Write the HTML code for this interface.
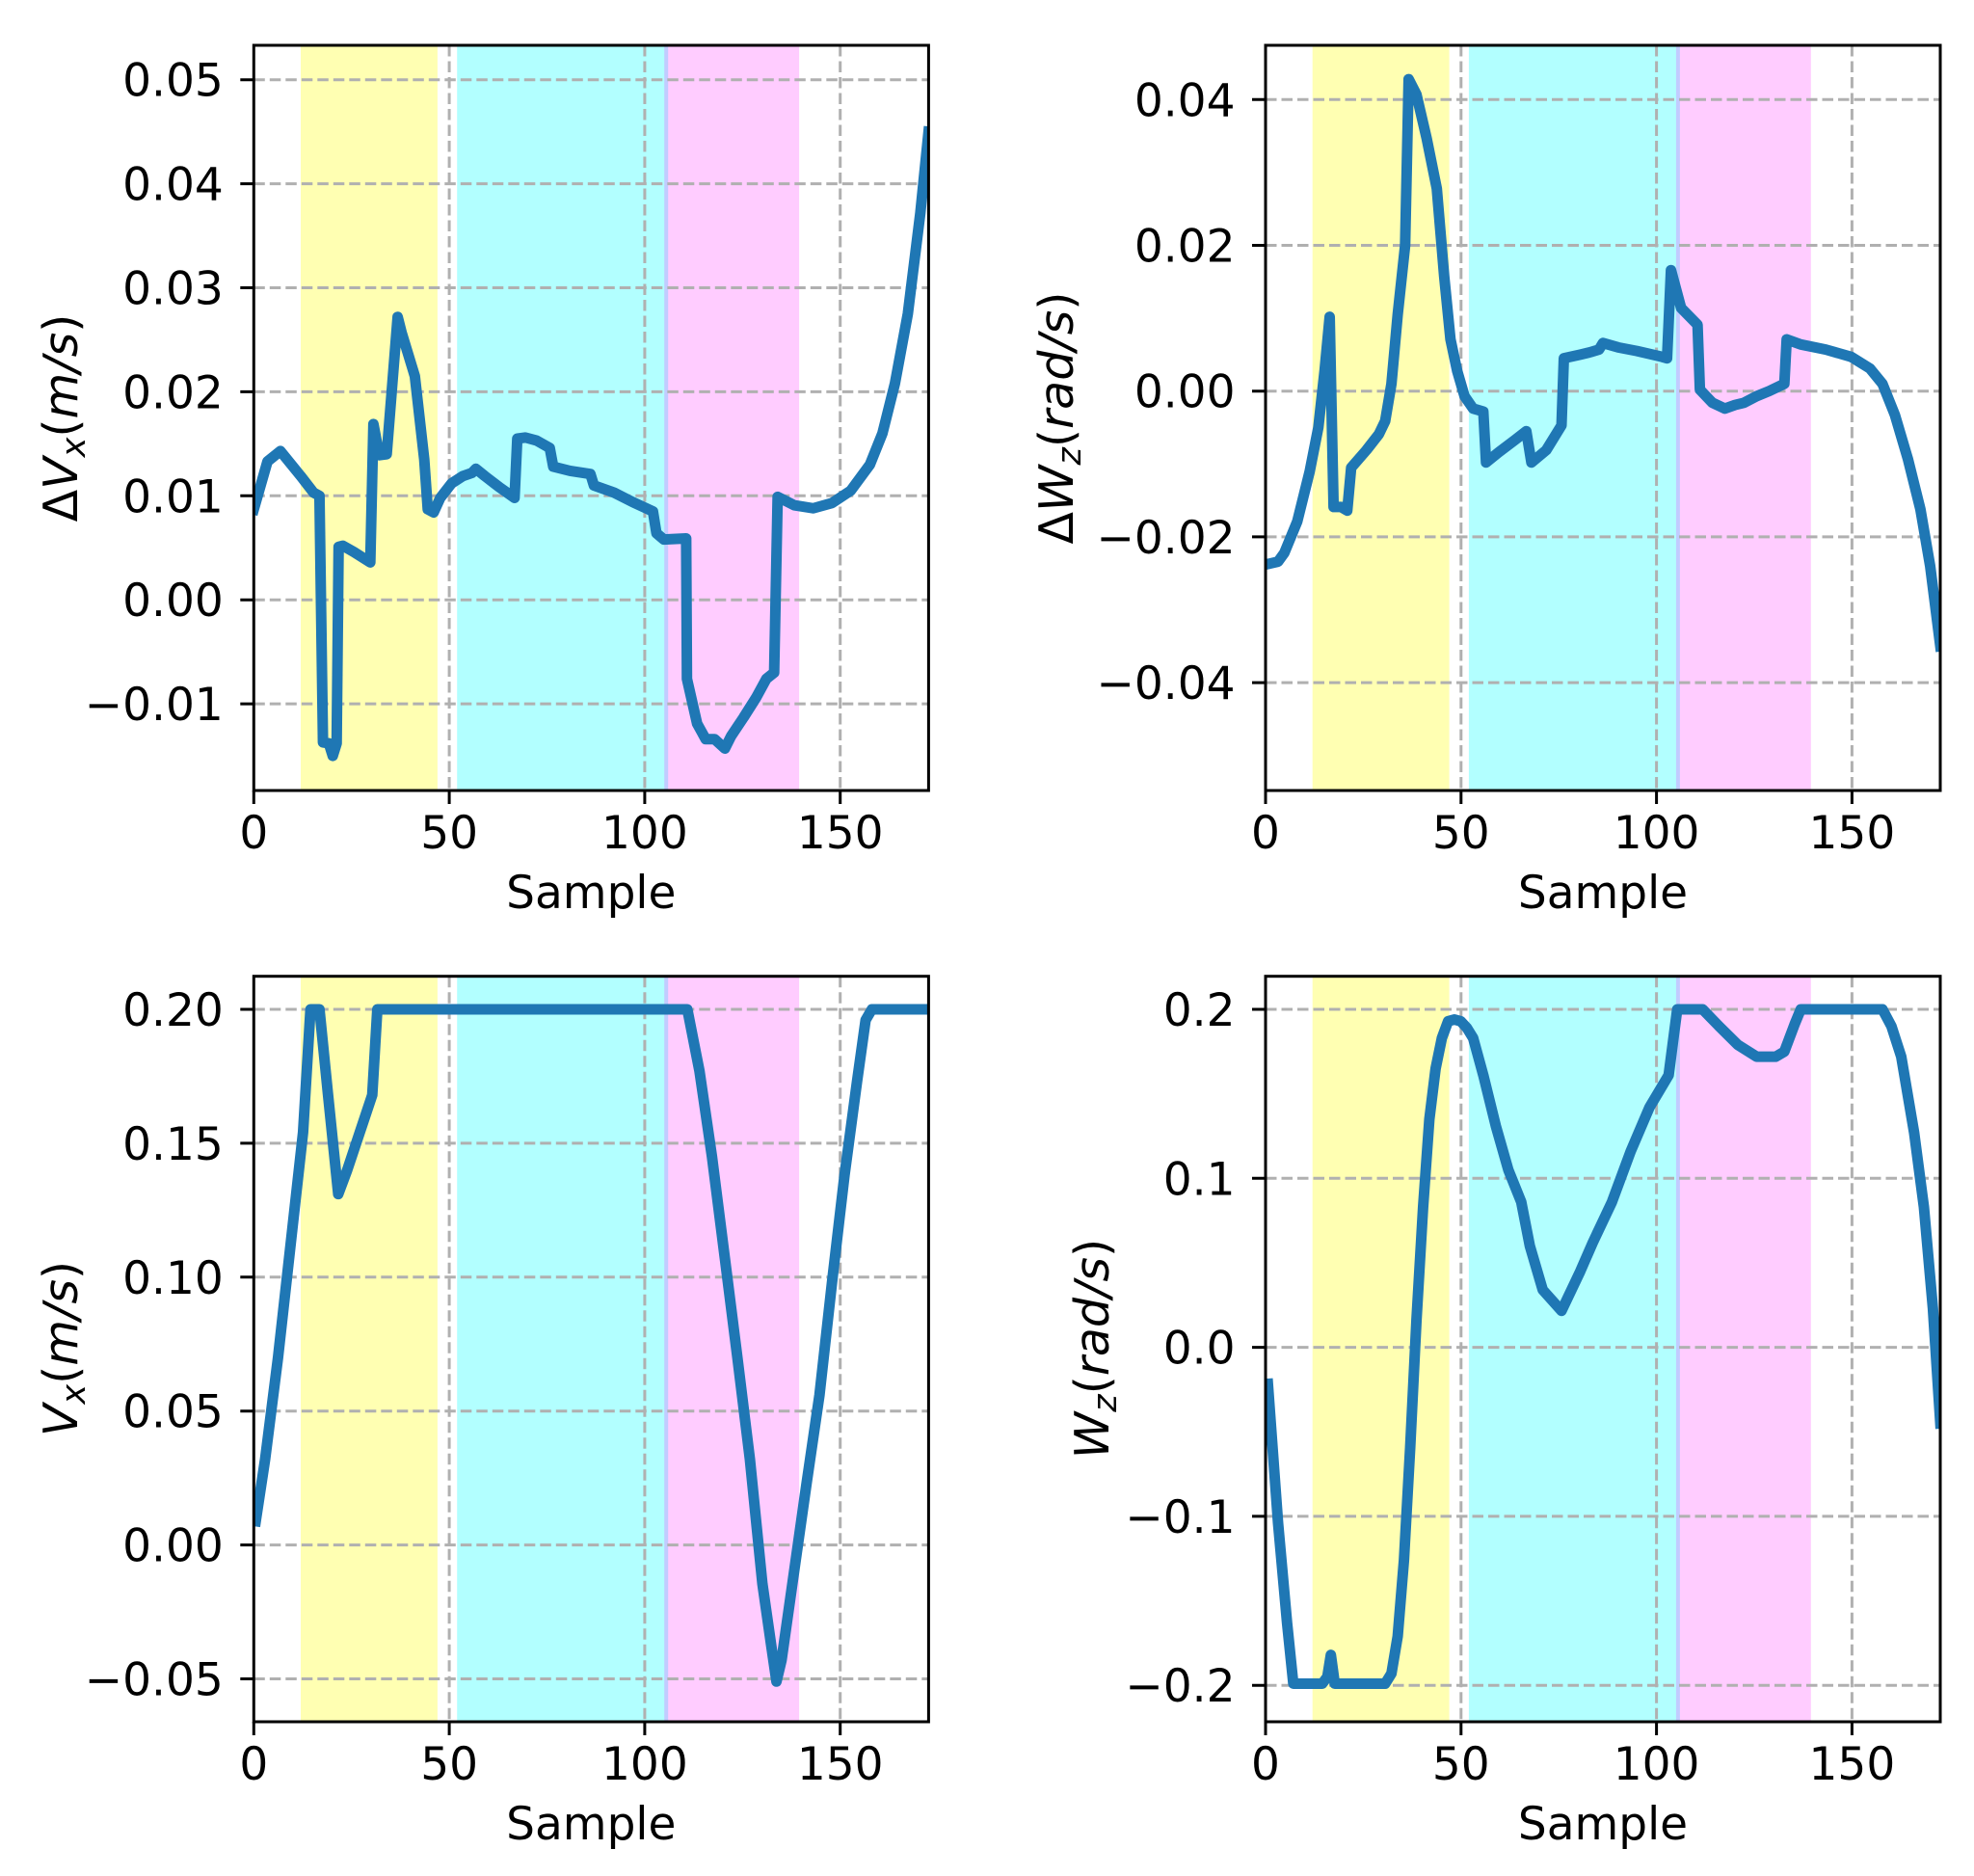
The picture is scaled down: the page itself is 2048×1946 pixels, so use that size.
<!DOCTYPE html>
<html><head><meta charset="utf-8"><style>
html,body{margin:0;padding:0;background:#fff;}
svg{display:block;}
text{font-family:"DejaVu Sans","Liberation Sans",sans-serif;font-size:47px;fill:#000;}
.it{font-style:italic;}
.yl{font-size:49px;}
</style></head><body>
<svg width="2048" height="1946" viewBox="0 0 2048 1946" xmlns="http://www.w3.org/2000/svg">
<defs>
<clipPath id="c1"><rect x="263.3" y="47" width="700.1" height="773"/></clipPath>
<clipPath id="c2"><rect x="1313" y="47" width="700" height="773"/></clipPath>
<clipPath id="c3"><rect x="263.3" y="1012.7" width="700.1" height="773.3"/></clipPath>
<clipPath id="c4"><rect x="1313" y="1012.7" width="700" height="773.3"/></clipPath>
</defs>
<rect width="2048" height="1946" fill="#fff"/>

<g>
<rect x="312" y="47" width="141.9" height="773" fill="#ffff00" fill-opacity="0.3"/>
<rect x="474.2" y="47" width="219" height="773" fill="#00ffff" fill-opacity="0.3"/>
<rect x="689.2" y="47" width="139.9" height="773" fill="#ff00ff" fill-opacity="0.2"/>
<rect x="1361.7" y="47" width="141.9" height="773" fill="#ffff00" fill-opacity="0.3"/>
<rect x="1523.9" y="47" width="219" height="773" fill="#00ffff" fill-opacity="0.3"/>
<rect x="1738.9" y="47" width="139.9" height="773" fill="#ff00ff" fill-opacity="0.2"/>
<rect x="312" y="1012.7" width="141.9" height="773.3" fill="#ffff00" fill-opacity="0.3"/>
<rect x="474.2" y="1012.7" width="219" height="773.3" fill="#00ffff" fill-opacity="0.3"/>
<rect x="689.2" y="1012.7" width="139.9" height="773.3" fill="#ff00ff" fill-opacity="0.2"/>
<rect x="1361.7" y="1012.7" width="141.9" height="773.3" fill="#ffff00" fill-opacity="0.3"/>
<rect x="1523.9" y="1012.7" width="219" height="773.3" fill="#00ffff" fill-opacity="0.3"/>
<rect x="1738.9" y="1012.7" width="139.9" height="773.3" fill="#ff00ff" fill-opacity="0.2"/>
</g>

<g stroke="#b0b0b0" stroke-width="3" stroke-dasharray="11.5,5" fill="none">
<path d="M263.3 82.7H963.4M263.3 190.6H963.4M263.3 298.5H963.4M263.3 406.4H963.4M263.3 514.3H963.4M263.3 622.2H963.4M263.3 730.1H963.4"/>
<path d="M466.1 47V820M668.9 47V820M871.7 47V820"/>
<path d="M1313 103.3H2013M1313 254.5H2013M1313 405.7H2013M1313 556.9H2013M1313 708.1H2013"/>
<path d="M1515.8 47V820M1718.6 47V820M1921.4 47V820"/>
<path d="M263.3 1047H963.4M263.3 1185.9H963.4M263.3 1324.8H963.4M263.3 1463.7H963.4M263.3 1602.6H963.4M263.3 1741.5H963.4"/>
<path d="M466.1 1012.7V1786M668.9 1012.7V1786M871.7 1012.7V1786"/>
<path d="M1313 1047H2013M1313 1222.3H2013M1313 1397.6H2013M1313 1572.9H2013M1313 1748.2H2013"/>
<path d="M1515.8 1012.7V1786M1718.6 1012.7V1786M1921.4 1012.7V1786"/>
</g>

<g clip-path="url(#c1)"><g transform="matrix(4.056,0,0,-10790,263.3,622.2)">
<polyline vector-effect="non-scaling-stroke" fill="none" stroke="#1f77b4" stroke-width="11" stroke-linejoin="round" stroke-linecap="square" points="0,0.0087 3.5,0.0133 6.8,0.0143 12,0.0119 15.3,0.0103 16.8,0.0100 17.7,-0.0137 19.2,-0.0138 20.2,-0.0150 21.2,-0.0138 21.7,0.0051 22.8,0.0052 25.6,0.0046 29.8,0.0036 30.6,0.0169 32.1,0.0139 34,0.0140 36.8,0.0272 37.8,0.0257 41.2,0.0215 43.6,0.0135 44.5,0.0087 46,0.0084 47.7,0.0098 50.6,0.0112 53.5,0.0119 55.8,0.0122 56.8,0.0126 59.1,0.0119 62.9,0.0108 66.7,0.0098 67.4,0.0155 69.5,0.0156 72.4,0.0153 75.7,0.0146 76.6,0.0128 80.9,0.0124 86.1,0.0121 87,0.0110 92.2,0.0103 96.9,0.0094 102.1,0.0085 103,0.0064 104.9,0.0058 110.6,0.0059 110.8,-0.0076 113.4,-0.0119 115.6,-0.0134 117.9,-0.0134 120.5,-0.0143 122.1,-0.0131 125.3,-0.0113 128.5,-0.0094 131.1,-0.0076 133.1,-0.0070 134,0.0099 138.2,0.0091 143.1,0.0088 147.9,0.0093 152.7,0.0105 157.6,0.0130 160.8,0.0160 164,0.0208 167.3,0.0275 170.5,0.0372 172.6,0.045"/>
</g></g>

<g clip-path="url(#c2)"><g transform="matrix(4.056,0,0,-7560,1313,405.7)">
<polyline vector-effect="non-scaling-stroke" fill="none" stroke="#1f77b4" stroke-width="11" stroke-linejoin="round" stroke-linecap="square" points="0,-0.0238 3.2,-0.0234 4.8,-0.0222 8.1,-0.0179 11.3,-0.0110 13.5,-0.0050 15.1,0.0028 16.4,0.0102 17.4,-0.0159 19.3,-0.0159 20.9,-0.0164 21.9,-0.0105 25.8,-0.0081 29,-0.0059 30.6,-0.0041 32.2,0.0010 33.8,0.0105 35.7,0.0200 36.6,0.0428 38.6,0.0407 41.2,0.0347 43.8,0.0278 45.7,0.0157 47.3,0.0071 49,0.0028 50.9,-0.0007 53.1,-0.0024 55.7,-0.0028 56.4,-0.0098 59.6,-0.0084 63.8,-0.0067 66.7,-0.0055 68,-0.0098 71.8,-0.0081 75.7,-0.0047 76.3,0.0045 80.5,0.0050 82.8,0.0053 85.3,0.0057 86.3,0.0066 90.2,0.0060 95,0.0055 101.4,0.0047 102.7,0.0045 103.7,0.0166 106.3,0.0114 110.5,0.0091 111.1,0.0002 114.3,-0.0016 117.5,-0.0024 120.1,-0.0019 122.4,-0.0016 125.6,-0.0007 128.8,0.0 132.7,0.0010 133.3,0.0071 136.9,0.0064 143.3,0.0057 149.8,0.0047 154.6,0.0031 157.8,0.0010 161,-0.0033 164.3,-0.0093 167.5,-0.0162 170,-0.0240 172.6,-0.0350"/>
</g></g>

<g clip-path="url(#c3)"><g transform="matrix(4.056,0,0,-2778,263.3,1602.6)">
<polyline vector-effect="non-scaling-stroke" fill="none" stroke="#1f77b4" stroke-width="11" stroke-linejoin="round" stroke-linecap="square" points="0.5,0.0089 2.9,0.032 6.2,0.070 9.4,0.112 12.6,0.154 14.5,0.200 16.8,0.200 19,0.168 21.6,0.131 23.9,0.140 27.1,0.154 30.3,0.168 31.6,0.200 110.9,0.200 114,0.177 117.2,0.145 120.5,0.107 123.7,0.070 126.9,0.032 130.1,-0.0145 132.4,-0.038 133.7,-0.051 135,-0.043 138.2,-0.010 141.4,0.023 144.7,0.056 147.9,0.098 151.1,0.138 154.3,0.173 156.5,0.196 158.1,0.2 172.6,0.2"/>
</g></g>

<g clip-path="url(#c4)"><g transform="matrix(4.056,0,0,-1753,1313,1397.6)">
<polyline vector-effect="non-scaling-stroke" fill="none" stroke="#1f77b4" stroke-width="11" stroke-linejoin="round" stroke-linecap="square" points="0.6,-0.0216 3.2,-0.104 5.5,-0.163 7.1,-0.199 14.5,-0.199 15.8,-0.195 16.7,-0.182 17.7,-0.199 30.6,-0.199 32.2,-0.193 33.8,-0.171 35.4,-0.126 37,-0.059 38.6,0.016 40.3,0.083 41.9,0.135 43.5,0.165 45.1,0.183 46.7,0.193 48.3,0.194 49.9,0.193 51.5,0.189 53.1,0.183 55.7,0.161 58.9,0.131 62.1,0.105 65.4,0.086 67.6,0.060 70.9,0.034 75.7,0.0216 80.5,0.045 83.7,0.062 88.6,0.086 93.4,0.116 98.2,0.142 103.1,0.161 105.3,0.2 111.8,0.2 116,0.19 120.8,0.179 125.6,0.172 130.5,0.172 132.7,0.175 135.3,0.191 136.9,0.2 157.8,0.2 160.1,0.19 162.6,0.172 165.9,0.127 168.4,0.083 170.7,0.023 172.6,-0.045"/>
</g></g>

<g stroke="#000" stroke-width="3" fill="none">
<rect x="263.3" y="47" width="700.1" height="773"/>
<rect x="1313" y="47" width="700" height="773"/>
<rect x="263.3" y="1012.7" width="700.1" height="773.3"/>
<rect x="1313" y="1012.7" width="700" height="773.3"/>
<path d="M263.3 82.7h-14M263.3 190.6h-14M263.3 298.5h-14M263.3 406.4h-14M263.3 514.3h-14M263.3 622.2h-14M263.3 730.1h-14"/>
<path d="M263.3 820v14M466.1 820v14M668.9 820v14M871.7 820v14"/>
<path d="M1313 103.3h-14M1313 254.5h-14M1313 405.7h-14M1313 556.9h-14M1313 708.1h-14"/>
<path d="M1313 820v14M1515.8 820v14M1718.6 820v14M1921.4 820v14"/>
<path d="M263.3 1047h-14M263.3 1185.9h-14M263.3 1324.8h-14M263.3 1463.7h-14M263.3 1602.6h-14M263.3 1741.5h-14"/>
<path d="M263.3 1786v14M466.1 1786v14M668.9 1786v14M871.7 1786v14"/>
<path d="M1313 1047h-14M1313 1222.3h-14M1313 1397.6h-14M1313 1572.9h-14M1313 1748.2h-14"/>
<path d="M1313 1786v14M1515.8 1786v14M1718.6 1786v14M1921.4 1786v14"/>
</g>

<g text-anchor="end">
<text x="231.8" y="99.7">0.05</text>
<text x="231.8" y="207.6">0.04</text>
<text x="231.8" y="315.5">0.03</text>
<text x="231.8" y="423.4">0.02</text>
<text x="231.8" y="531.3">0.01</text>
<text x="231.8" y="639.2">0.00</text>
<text x="231.8" y="747.1">−0.01</text>

<text x="1281.5" y="120.3">0.04</text>
<text x="1281.5" y="271.5">0.02</text>
<text x="1281.5" y="422.7">0.00</text>
<text x="1281.5" y="573.9">−0.02</text>
<text x="1281.5" y="725.1">−0.04</text>

<text x="231.8" y="1064">0.20</text>
<text x="231.8" y="1202.9">0.15</text>
<text x="231.8" y="1341.8">0.10</text>
<text x="231.8" y="1480.7">0.05</text>
<text x="231.8" y="1619.6">0.00</text>
<text x="231.8" y="1758.5">−0.05</text>

<text x="1281.5" y="1064">0.2</text>
<text x="1281.5" y="1239.3">0.1</text>
<text x="1281.5" y="1414.6">0.0</text>
<text x="1281.5" y="1589.9">−0.1</text>
<text x="1281.5" y="1765.2">−0.2</text>
</g>
<g text-anchor="middle">
<text x="263.3" y="880">0</text><text x="466.1" y="880">50</text><text x="668.9" y="880">100</text><text x="871.7" y="880">150</text>
<text x="1313" y="880">0</text><text x="1515.8" y="880">50</text><text x="1718.6" y="880">100</text><text x="1921.4" y="880">150</text>
<text x="263.3" y="1846">0</text><text x="466.1" y="1846">50</text><text x="668.9" y="1846">100</text><text x="871.7" y="1846">150</text>
<text x="1313" y="1846">0</text><text x="1515.8" y="1846">50</text><text x="1718.6" y="1846">100</text><text x="1921.4" y="1846">150</text>
<text x="613.3" y="942">Sample</text>
<text x="1663" y="942">Sample</text>
<text x="613.3" y="1908">Sample</text>
<text x="1663" y="1908">Sample</text>

<text class="yl" transform="translate(80,433.5) rotate(-90)">Δ<tspan class="it">V</tspan><tspan class="it" font-size="35" dy="8">x</tspan><tspan dy="-8">(</tspan><tspan class="it">m/s</tspan>)</text>
<text class="yl" transform="translate(1113,433.5) rotate(-90)">Δ<tspan class="it">W</tspan><tspan class="it" font-size="35" dy="8">z</tspan><tspan dy="-8">(</tspan><tspan class="it">rad/s</tspan>)</text>
<text class="yl" transform="translate(80,1399) rotate(-90)"><tspan class="it">V</tspan><tspan class="it" font-size="35" dy="8">x</tspan><tspan dy="-8">(</tspan><tspan class="it">m/s</tspan>)</text>
<text class="yl" transform="translate(1150,1399) rotate(-90)"><tspan class="it">W</tspan><tspan class="it" font-size="35" dy="8">z</tspan><tspan dy="-8">(</tspan><tspan class="it">rad/s</tspan>)</text>
</g>
</svg>
</body></html>
